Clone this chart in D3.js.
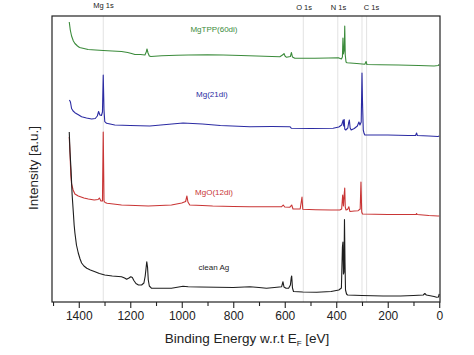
<!DOCTYPE html>
<html><head><meta charset="utf-8">
<script src="https://cdn.jsdelivr.net/npm/d3@7"></script>
<style>body{margin:0;background:#fff}svg{display:block}text{font-family:Arial,"Liberation Sans",sans-serif}</style>
</head><body><svg id="c" width="474" height="355"></svg>
<script>
// ---- data ----
const majorTicks = [1400, 1200, 1000, 800, 600, 400, 200, 0];
const minorTicks = [1500, 1300, 1100, 900, 700, 500, 300, 100];
const peakNames = ["Mg 1s", "O 1s", "N 1s", "C 1s"];
const peakLabelEnergy = [1304, 525, 391, 263];
const refLineEnergy = [1305, 528, 394, 300, 282];
const seriesNames = ["MgTPP(60di)", "Mg(21di)", "MgO(12di)", "clean Ag"];
const seriesLabelEnergy = [875, 883, 875, 875];
const seriesLabelIntensity = [270, 205, 107, 32];

const mgtpp = [[1437,280],[1433,272],[1428,266],[1421,261],[1415,258.5],[1405,256],[1397,254.5],[1380,253.5],[1364,252.5],[1335,252],[1305,251.5],[1270,251],[1234,250.5],[1210,249.5],[1195,248.5],[1182,247.5],[1160,247.5],[1143,247],[1138,250],[1135,253],[1131,249],[1126,246],[1120,245.5],[1078,246.3],[1020,246.8],[975,247],[900,247.2],[839,247],[770,246.5],[709,246],[650,245.5],[619,245.3],[606,247.5],[603,248.5],[599,246],[593,244.7],[578,245.5],[574,249.5],[570,245],[561,243.7],[520,243.7],[483,243.7],[430,244],[392,244.3],[380,243],[376,245],[374,264],[372,248],[369,252],[367,276],[365,247],[362,240],[358,239.3],[320,238.5],[289,237.7],[284,240.5],[281,237.5],[230,237.2],[159,237],[80,236.5],[20,236],[4,236.5],[0,237.5]];

const mg = [[1437,202],[1434,201],[1432,199.5],[1428,193.5],[1422,191],[1415,189.3],[1400,187],[1389,185.3],[1370,184],[1350,183],[1336,183.5],[1328,186],[1323,190.5],[1318,187],[1312,186.5],[1308,190],[1305,227],[1302,192],[1299,180.3],[1292,178.7],[1260,177],[1200,176.5],[1124,176],[1060,177.5],[995,179],[920,178],[850,176.5],[735,175.3],[650,175.5],[580,175.3],[574,173.7],[500,173.5],[412,173.7],[390,175],[379,177],[373,182],[371,176],[369,182.5],[367,173],[363,172],[355,174],[352,179],[349,182],[346,174],[342,172],[330,173.5],[318,176],[312,180],[308,177],[303,180],[300,229],[298,200],[295,172],[292,168.7],[289,167],[200,167],[120,166.5],[92,166.5],[88,169],[85,166.5],[40,166],[5,165.5],[0,166]];

const mgo = [[1437,165],[1434,148],[1432,135],[1431,127],[1428,118],[1422,112],[1415,108],[1402,106],[1380,104],[1363,103],[1340,102],[1325,102.5],[1320,104],[1314,101],[1308,101],[1305,170],[1302,101],[1298,99.5],[1290,98.7],[1234,97],[1180,96.5],[1130,96],[1040,97],[1000,99],[985,100.5],[980,106],[976,100],[969,97],[920,96.5],[880,96],[800,95.5],[736,95.3],[640,95.3],[612,95.3],[606,97],[600,95],[580,94.8],[573,97],[568,93],[540,93],[533,105],[530,92.7],[480,92.3],[420,92],[386,92],[379,93],[375,107],[372,96],[369,108],[367,114],[365,95],[362,92],[356,92.5],[351,95.3],[347,90.5],[330,91],[315,91.3],[307,93],[304,120],[301,90],[298,88],[250,87.8],[200,87.5],[140,87.5],[90,87.5],[88,88.5],[86,87.5],[40,86.5],[5,86],[0,86]];

const ag = [[1437,170],[1434,150],[1430,132],[1426,108],[1421,89],[1418,77],[1415,69],[1409,57],[1402,49],[1395,43],[1389,39],[1380,36],[1369,33.7],[1355,32],[1337,30.3],[1320,28.5],[1299,27],[1270,26],[1234,25.3],[1222,24],[1214,22.7],[1205,24],[1198,25.3],[1192,24.5],[1186,21.5],[1178,18.5],[1168,17],[1156,17],[1147,19],[1142,26],[1139,33],[1136,40.3],[1133,35],[1130,22],[1126,16],[1117,13.7],[1080,13.7],[1040,13.7],[995,15.7],[975,15.3],[930,15],[865,14.7],[800,14.5],[735,15.3],[700,14.5],[671,13.7],[640,14.5],[612,15.3],[607,20.3],[603,15],[595,13.7],[585,13.7],[578,17],[575,24],[573,26],[570,14],[566,10.5],[530,10],[476,9.7],[420,10.5],[390,12],[380,14],[376,55],[374,60],[372,28],[370,30],[368,82.5],[366,40],[364,12],[360,8],[356,7],[300,6.5],[218,6],[150,6],[100,6.5],[62,7],[56,8.5],[50,7],[20,5.5],[10,4.7],[3,5],[0,8]];

const seriesData = [mgtpp, mg, mgo, ag];
const seriesColors = ["#3b8b3b", "#2b2ba3", "#c93535", "#1e1e1e"];

// ---- layout ----
const L = 52, R = 440, T = 16, B = 302;
const svg = d3.select("#c");
const x = d3.scaleLinear().domain([1504, -3]).range([L, R]);
const y = d3.scaleLinear().domain([0, 286]).range([B, T]);

// reference lines
svg.append("g").selectAll("line").data(refLineEnergy).join("line")
  .attr("x1", d => x(d)).attr("x2", d => x(d)).attr("y1", T).attr("y2", B)
  .attr("stroke", "#e2e2e2").attr("stroke-width", 1);

// spectra
const line = d3.line().x(d => x(d[0])).y(d => y(d[1]));
svg.append("g").selectAll("path").data(seriesData).join("path")
  .attr("d", d => line(d)).attr("fill", "none")
  .attr("stroke", (d, i) => seriesColors[i]).attr("stroke-width", 1.1)
  .attr("stroke-linejoin", "round");

// frame
svg.append("rect").attr("x", L).attr("y", T).attr("width", R - L).attr("height", B - T)
  .attr("fill", "none").attr("stroke", "#222").attr("stroke-width", 1.2);

// axes
const ax = svg.append("g").attr("transform", `translate(0,${B})`)
  .call(d3.axisBottom(x).tickValues(majorTicks).tickSize(6).tickPadding(3).tickFormat(d3.format("d")));
ax.select(".domain").remove();
ax.selectAll("line").attr("stroke", "#222").attr("stroke-width", 1.1);
ax.selectAll("text").attr("font-size", 12).attr("fill", "#222").attr("font-family", "Arial, 'Liberation Sans', sans-serif");
const axm = svg.append("g").attr("transform", `translate(0,${B})`)
  .call(d3.axisBottom(x).tickValues(minorTicks).tickSize(4).tickFormat(""));
axm.select(".domain").remove();
axm.selectAll("line").attr("stroke", "#222").attr("stroke-width", 1.1);

// peak labels
svg.append("g").selectAll("text").data(peakNames).join("text")
  .attr("x", (d, i) => x(peakLabelEnergy[i]))
  .attr("y", (d, i) => i === 0 ? 7.5 : 10)
  .attr("text-anchor", "middle").attr("font-size", 7.5).attr("fill", "#222")
  .text(d => d);

// series labels
svg.append("g").selectAll("text").data(seriesNames).join("text")
  .attr("x", (d, i) => x(seriesLabelEnergy[i]))
  .attr("y", (d, i) => y(seriesLabelIntensity[i]))
  .attr("text-anchor", "middle").attr("font-size", 8)
  .attr("fill", (d, i) => seriesColors[i]).text(d => d);

// axis titles
const xt = svg.append("text").attr("x", 247).attr("y", 343).attr("text-anchor", "middle")
  .attr("font-size", 13.5).attr("fill", "#222");
xt.append("tspan").text("Binding Energy w.r.t E");
xt.append("tspan").attr("font-size", 8).attr("dy", 3).text("F");
xt.append("tspan").attr("dy", -3).text(" [eV]");

svg.append("text").attr("transform", "translate(38,168) rotate(-90)")
  .attr("text-anchor", "middle").attr("font-size", 13.5).attr("fill", "#222")
  .text("Intensity [a.u.]");
</script></body></html>
